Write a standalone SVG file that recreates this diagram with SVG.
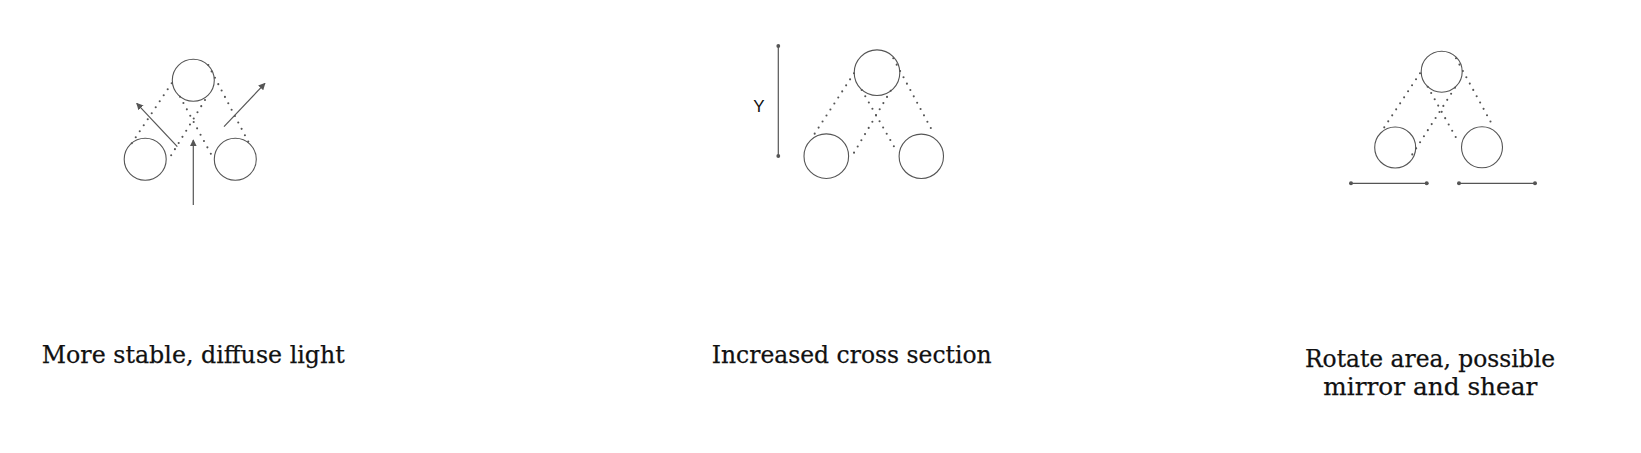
<svg xmlns="http://www.w3.org/2000/svg" width="1641" height="453" viewBox="0 0 1641 453">
<style>
.c{fill:none;stroke:#555;stroke-width:1.1}
.d{fill:none;stroke:#555;stroke-width:2.1;stroke-dasharray:0 7.2;stroke-linecap:round}
.a{fill:none;stroke:#555;stroke-width:1.2}
.p{fill:#555}
.t{font-family:"DejaVu Serif","Liberation Serif",serif;font-size:25px;fill:#111;stroke:#111;stroke-width:0.25;text-anchor:middle}
.y{font-family:"Liberation Sans","DejaVu Sans",sans-serif;font-size:17px;fill:#111;text-anchor:middle}
</style>
<defs>
<marker id="ah" viewBox="0 0 10 10" refX="9" refY="5" markerWidth="7" markerHeight="7" markerUnits="userSpaceOnUse" orient="auto">
<path d="M0,0 L10,5 L0,10 z" fill="#555"/>
</marker>
</defs>
<rect width="1641" height="453" fill="#fff"/>

<g id="connectors">
<!-- panel 1 -->
<line class="d" x1="171.7" y1="83.3" x2="131.7" y2="143.3"/>
<line class="d" x1="208.3" y1="65" x2="248.3" y2="141.7"/>
<line class="d" x1="180" y1="96.7" x2="213.3" y2="158.3"/>
<line class="d" x1="205" y1="100" x2="168.3" y2="160"/>
<line class="a" x1="177.3" y1="146.7" x2="136.7" y2="103.3" marker-end="url(#ah)"/>
<line class="a" x1="224" y1="126.7" x2="265" y2="83.3" marker-end="url(#ah)"/>
<line class="a" x1="193.3" y1="205" x2="193.3" y2="140" marker-end="url(#ah)"/>
<!-- panel 2 -->
<line class="d" x1="854" y1="73.3" x2="811" y2="139.3"/>
<line class="d" x1="893.3" y1="58.3" x2="934" y2="134"/>
<line class="d" x1="861.7" y1="90" x2="896" y2="150"/>
<line class="d" x1="890.7" y1="90.7" x2="850.7" y2="158.3"/>
<line class="a" x1="778.3" y1="46" x2="778.3" y2="156"/>
<circle class="p" cx="778.3" cy="46" r="1.9"/>
<circle class="p" cx="778.3" cy="156" r="1.9"/>
<!-- panel 3 -->
<line class="d" x1="1420" y1="73.3" x2="1381" y2="132.3"/>
<line class="d" x1="1456" y1="58.3" x2="1493.3" y2="126.7"/>
<line class="d" x1="1427.7" y1="86.7" x2="1458.3" y2="141.7"/>
<line class="d" x1="1455" y1="87.7" x2="1410" y2="158"/>
<line class="a" x1="1351" y1="183.3" x2="1426.7" y2="183.3"/>
<line class="a" x1="1459" y1="183.3" x2="1535" y2="183.3"/>
<circle class="p" cx="1351" cy="183.3" r="2"/>
<circle class="p" cx="1426.7" cy="183.3" r="2"/>
<circle class="p" cx="1459" cy="183.3" r="2"/>
<circle class="p" cx="1535" cy="183.3" r="2"/>
</g>

<g id="p1-top"><circle class="c" cx="193.3" cy="80.3" r="21"/></g>
<g id="p1-left"><circle class="c" cx="145.2" cy="159.2" r="21"/></g>
<g id="p1-right"><circle class="c" cx="235.3" cy="159.2" r="21"/></g>
<g id="p1-label"><text class="t" x="193.3" y="363.3" textLength="303" lengthAdjust="spacingAndGlyphs">More stable, diffuse light</text></g>

<g id="p2-top"><circle class="c" cx="877" cy="72.7" r="22.8"/></g>
<g id="p2-left"><circle class="c" cx="826.3" cy="156.2" r="22.3"/></g>
<g id="p2-right"><circle class="c" cx="921.3" cy="156.3" r="22.2"/></g>
<g id="p2-y"><text class="y" x="758.8" y="112">Y</text></g>
<g id="p2-label"><text class="t" x="851.7" y="363.3" textLength="280" lengthAdjust="spacingAndGlyphs">Increased cross section</text></g>

<g id="p3-top"><circle class="c" cx="1441.7" cy="71.7" r="20.5"/></g>
<g id="p3-left"><circle class="c" cx="1395.2" cy="147.5" r="20.5"/></g>
<g id="p3-right"><circle class="c" cx="1482" cy="147.3" r="20.5"/></g>
<g id="p3-label">
<text class="t" x="1430" y="366.7" textLength="250" lengthAdjust="spacingAndGlyphs">Rotate area, possible</text>
<text class="t" x="1430.3" y="395" textLength="214" lengthAdjust="spacingAndGlyphs">mirror and shear</text>
</g>
</svg>
